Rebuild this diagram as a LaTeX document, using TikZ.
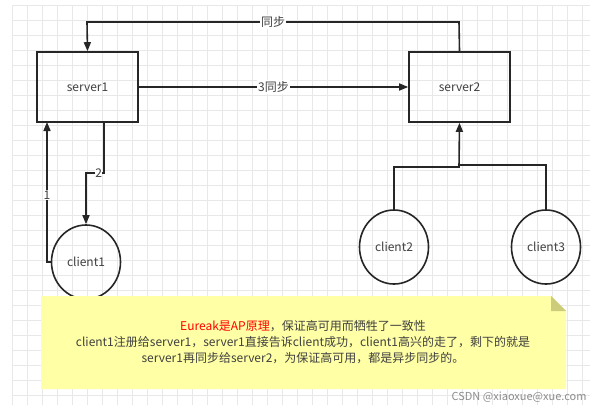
\documentclass[tikz,border=0pt]{standalone}
\usepackage{fontspec}
\setmainfont{Noto Sans CJK SC}
\usetikzlibrary{arrows.meta,shapes.geometric}
\definecolor{notey}{HTML}{FFFFA6}
\definecolor{fold}{HTML}{CCCC7A}
\begin{document}
\begin{tikzpicture}[x=1pt,y=-1pt,
  box/.style={draw=black!85,line width=1.6pt,minimum width=101pt,minimum height=70pt,font=\fontsize{12}{14}\selectfont,text=black!75},
  cli/.style={draw=black!85,line width=1.6pt,ellipse,minimum width=69pt,minimum height=74pt,inner sep=0pt,font=\fontsize{12}{14}\selectfont,text=black!75},
  con/.style={draw=black!85,line width=1.6pt,-{Triangle[length=9pt,width=7pt]}},
  lab/.style={fill=white,inner sep=1pt,font=\fontsize{12}{14}\selectfont,text=black!75}]
\useasboundingbox (0,0) rectangle (601,410);
\fill[white] (0,0) rectangle (601,410);
\foreach \x in {12,27,...,590} \draw[black!9,line width=0.6pt] (\x,5) -- (\x,405);
\foreach \y in {5,20,...,405} \draw[black!9,line width=0.6pt] (12,\y) -- (590,\y);
\node[box] (s1) at (87.5,87) {server1};
\node[box] (s2) at (459.5,87) {server2};
\node[cli] (c1) at (86,262) {client1};
\node[cli] (c2) at (394,247) {client2};
\node[cli] (c3) at (546,247) {client3};
\coordinate (t1) at (459,22); \coordinate (t2) at (87,22);
\draw[con] (s2.north) -- (t1) -- node[lab,pos=0.5]{同步} (t2) -- (s1.north);
\draw[con] (s1.east) -- node[lab]{3同步} (s2.west);
\draw[con] (c1.west) -- (47,262) -- node[lab,pos=0.48]{1} (47,122);
\draw[con] (104,122) -- (104,173) -- node[lab,pos=0.3,inner sep=0.5pt]{2} (86,173) -- (c1.north);
\draw[con] (c2.north) -- (394,167) -- (459,167) -- (s2.south);
\draw[draw=black!85,line width=1.6pt] (c3.north) -- (546,165) -- (459,165);
\fill[notey] (41,296) -- (551,296) -- (566,311) -- (566,389) -- (41,389) -- cycle;
\fill[fold] (551,296) -- (566,311) -- (551,311) -- cycle;
\node[align=center,font=\fontsize{12}{16}\selectfont,text=black!75] (note) at (303,342)
 {\textcolor{red}{Eureak是AP原理}，保证高可用而牺牲了一致性\\
 client1注册给server1，server1直接告诉client成功，client1高兴的走了，剩下的就是\\
 server1再同步给server2，为保证高可用，都是异步同步的。};
\node[anchor=east,font=\fontsize{11}{13}\selectfont,text=black!45] (wm) at (590,397) {CSDN @xiaoxue@xue.com};
\end{tikzpicture}
\end{document}
